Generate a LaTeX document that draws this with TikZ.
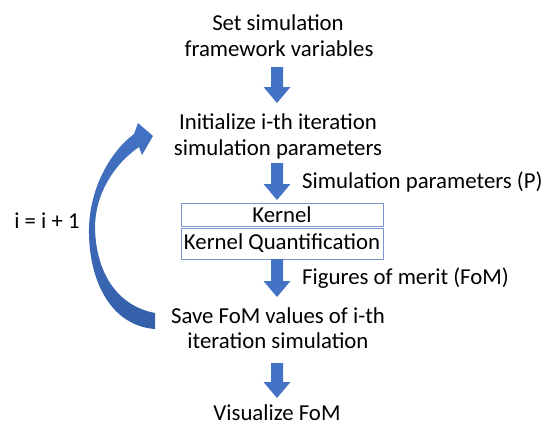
\documentclass[tikz,border=0pt]{standalone}
\usepackage{fontspec}
\setmainfont{Carlito}
\usetikzlibrary{calc}
\definecolor{arrowblue}{HTML}{4472C4}
\definecolor{arrowdark}{HTML}{3460AA}
\definecolor{boxline}{RGB}{120,150,205}
\newcommand\blockarr[2]{%
  \fill[arrowblue] ($(#1)+(-6,0)$) -- ($(#1)+(6,0)$) -- ($(#2)+(6,-16)$) -- ($(#2)+(13.5,-16)$) -- (#2) -- ($(#2)+(-13.5,-16)$) -- ($(#2)+(-6,-16)$) -- cycle;}
\begin{document}
\begin{tikzpicture}[x=1pt,y=-1pt,
  txt/.style={inner sep=0pt, anchor=base, font=\fontsize{22.8}{26}\selectfont},
  lbl/.style={inner sep=0pt, anchor=base west, font=\fontsize{22.8}{26}\selectfont},
  kbox/.style={draw=boxline, line width=0.9pt, minimum width=202pt, inner sep=0pt, font=\fontsize{22.8}{26}\selectfont}]
\useasboundingbox (0,0) rectangle (550,429);
% texts
\node[txt] (set1) at (278,30) {Set simulation};
\node[txt] (set2) at (279,56) {framework variables};
\node[txt] (ini1) at (278,129) {Initialize i-th iteration};
\node[txt] (ini2) at (278,155) {simulation parameters};
\node[kbox, minimum height=23pt] (kern) at (282,214.5) {Kernel};
\node[kbox, minimum height=31pt] (kq) at (282,243.5) {Kernel Quantification};
\node[txt] (sav1) at (278,323) {Save FoM values of i-th};
\node[txt] (sav2) at (278,348) {iteration simulation};
\node[txt] (vis) at (277,420) {Visualize FoM};
\node[lbl] (lp) at (302,188) {Simulation parameters (P)};
\node[lbl] (lf) at (302,284) {Figures of merit (FoM)};
\node[txt] (inc) at (47,228) {i = i + 1};
% block arrows
\coordinate (a1t) at (277,67);  \coordinate (a1b) at (277,103);
\coordinate (a2t) at (277,163); \coordinate (a2b) at (277,200);
\coordinate (a3t) at (277,259); \coordinate (a3b) at (277,297);
\coordinate (a4t) at (277,363); \coordinate (a4b) at (277,398);
\blockarr{a1t}{a1b}
\blockarr{a2t}{a2b}
\blockarr{a3t}{a3b}
\blockarr{a4t}{a4b}
% curved loop arrow
\shade[top color=arrowblue, bottom color=arrowdark, draw=none]
  (155,329) .. controls (112,326) and (88,282) .. (89,228)
  .. controls (90,188) and (110,152) .. (134,134)
  -- (138,123) -- (153,136) -- (142,155) -- (139,147)
  .. controls (113,165) and (95,195) .. (95,228)
  .. controls (96,274) and (118,306) .. (155,313) -- cycle;
\end{tikzpicture}
\end{document}
